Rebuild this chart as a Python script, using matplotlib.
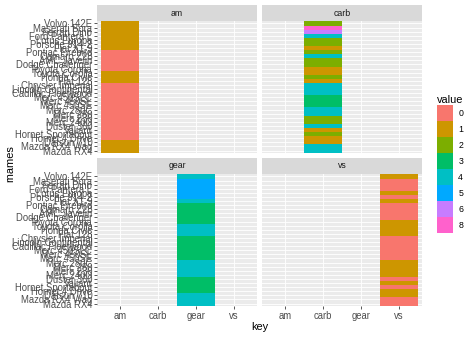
"""
Faceted tile chart of mtcars indicator columns (am, carb, gear, vs) by car.
Writes out.png (474x338 px).
"""

import numpy as np
import matplotlib
matplotlib.use("Agg")
import matplotlib.pyplot as plt
from matplotlib.patches import Patch

plt.rcParams["font.family"] = ["Liberation Sans", "DejaVu Sans"]

# ---------------------------------------------------------------------------
# Data (mtcars row order, bottom -> top on the y axis)
# ---------------------------------------------------------------------------
rnames = [
    "Mazda RX4", "Mazda RX4 Wag", "Datsun 710", "Hornet 4 Drive",
    "Hornet Sportabout", "Valiant", "Duster 360", "Merc 240D", "Merc 230",
    "Merc 280", "Merc 280C", "Merc 450SE", "Merc 450SL", "Merc 450SLC",
    "Cadillac Fleetwood", "Lincoln Continental", "Chrysler Imperial",
    "Fiat 128", "Honda Civic", "Toyota Corolla", "Toyota Corona",
    "Dodge Challenger", "AMC Javelin", "Camaro Z28", "Pontiac Firebird",
    "Fiat X1-9", "Porsche 914-2", "Lotus Europa", "Ford Pantera L",
    "Ferrari Dino", "Maserati Bora", "Volvo 142E",
]
am   = [1, 1, 1, 0, 0, 0, 0, 0, 0, 0, 0, 0, 0, 0, 0, 0, 0, 1, 1, 1, 0, 0, 0, 0, 0, 1, 1, 1, 1, 1, 1, 1]
carb = [4, 4, 1, 1, 2, 1, 4, 2, 2, 4, 4, 3, 3, 3, 4, 4, 4, 1, 2, 1, 1, 2, 2, 4, 2, 1, 2, 2, 4, 6, 8, 2]
gear = [4, 4, 4, 3, 3, 3, 3, 4, 4, 4, 4, 3, 3, 3, 3, 3, 3, 4, 4, 4, 3, 3, 3, 3, 3, 4, 5, 5, 5, 5, 5, 4]
vs   = [0, 0, 1, 1, 0, 1, 0, 1, 1, 1, 1, 0, 0, 0, 0, 0, 0, 1, 1, 1, 1, 0, 0, 0, 0, 1, 0, 1, 0, 0, 0, 1]

keys   = ["am", "carb", "gear", "vs"]
values = {"am": am, "carb": carb, "gear": gear, "vs": vs}
levels = [0, 1, 2, 3, 4, 5, 6, 8]

# ggplot2 default hue palette for 8 levels
LEVEL_COLOURS = ["#F8766D", "#CD9600", "#7CAE00", "#00BE67",
                 "#00BFC4", "#00A9FF", "#C77CFF", "#FF61CC"]
colour_of = dict(zip(levels, LEVEL_COLOURS))

PANEL_BG = "#EBEBEB"
STRIP_BG = "#D9D9D9"
TICK_TXT = "#4D4D4D"
TICK_COL = "#333333"

W, H, DPI = 474, 338, 72


def frac(x0, y0, x1, y1):
    """pixel box (top-left origin) -> figure fraction rect"""
    return [x0 / W, 1 - y1 / H, (x1 - x0) / W, (y1 - y0) / H]


fig = plt.figure(figsize=(W / DPI, H / DPI), dpi=DPI)

# panel layout in pixels
cols = [(97, 257), (262, 422)]
rows = [(21, 153), (174, 306)]
STRIP_H = 16

n = len(rnames)
ypos = np.arange(1, n + 1)

for i, key in enumerate(keys):
    r, c = divmod(i, 2)
    x0, x1 = cols[c]
    y0, y1 = rows[r]
    ax = fig.add_axes(frac(x0, y0, x1, y1))
    ax.set_facecolor(PANEL_BG)

    kx = keys.index(key) + 1
    ax.bar(np.full(n, kx), np.ones(n), bottom=ypos - 0.5, width=1.0,
           color=[colour_of[v] for v in values[key]],
           linewidth=0, zorder=3)

    ax.set_xlim(0.4, len(keys) + 0.6)
    ax.set_ylim(0.4, n + 0.6)
    ax.set_xticks(np.arange(1, len(keys) + 1))
    ax.set_yticks(ypos)
    ax.grid(True, color="white", linewidth=0.9, zorder=0)
    ax.set_axisbelow(True)
    for s in ax.spines.values():
        s.set_visible(False)
    ax.tick_params(length=2.75, width=0.8, color=TICK_COL,
                   labelcolor=TICK_TXT, labelsize=9.5, pad=2)

    if c == 0:
        ax.set_yticklabels(rnames)
    else:
        ax.tick_params(axis="y", left=False, labelleft=False)
    if r == 1:
        ax.set_xticklabels(keys)
    else:
        ax.tick_params(axis="x", bottom=False, labelbottom=False)

    # facet strip
    sx = fig.add_axes(frac(x0, y0 - STRIP_H, x1, y0))
    sx.set_facecolor(STRIP_BG)
    sx.set_xticks([])
    sx.set_yticks([])
    for s in sx.spines.values():
        s.set_visible(False)
    sx.text(0.5, 0.5, key, ha="center", va="center",
            fontsize=8.8, color="#1A1A1A", transform=sx.transAxes)

# axis titles
fig.text((97 + 422) / 2 / W, 1 - 327 / H, "key", ha="center", va="center",
         fontsize=11, color="black")
fig.text(10 / W, 1 - 164 / H, "rnames", ha="center", va="center",
         rotation=90, fontsize=11, color="black")

# legend
handles = [Patch(facecolor=col, edgecolor="none") for col in LEVEL_COLOURS]
leg = fig.legend(handles, [str(v) for v in levels], title="value",
                 loc="upper left", bbox_to_anchor=(437 / W, 1 - 95 / H),
                 frameon=False, fontsize=8.8, title_fontsize=11,
                 handlelength=1.82, handleheight=2.42, labelspacing=0,
                 handletextpad=0.6, borderpad=0, borderaxespad=0)
leg._legend_box.align = "left"
for t in leg.get_texts():
    t.set_color("black")

fig.savefig("out.png", dpi=DPI)
